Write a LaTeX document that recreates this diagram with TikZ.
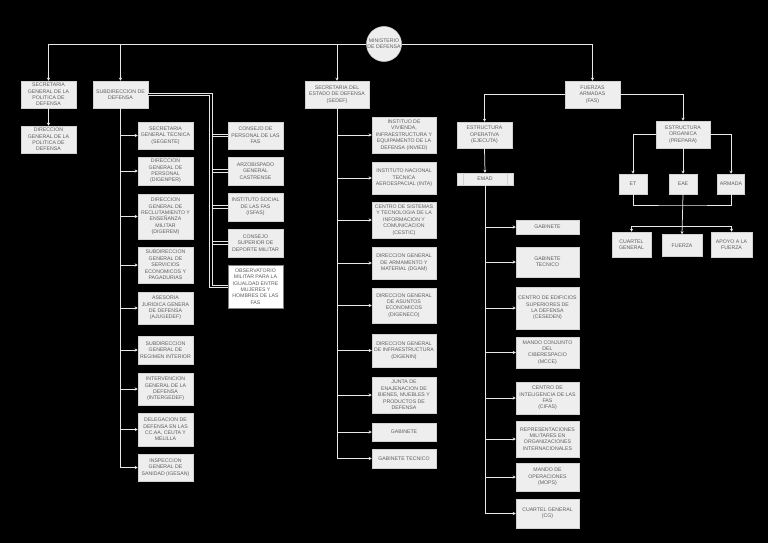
\documentclass[tikz,border=0pt]{standalone}
\usepackage{fontspec}
\setmainfont{Liberation Sans}
\usetikzlibrary{arrows.meta}

\definecolor{boxfill}{HTML}{EEEEEE}
\definecolor{boxline}{HTML}{D2D2D2}
\definecolor{txtgray}{HTML}{5E5E5E}
\definecolor{linegray}{HTML}{E8E8E8}

\tikzset{
  box/.style={draw=boxline, fill=boxfill, text=txtgray, align=center, inner sep=1pt,
    line width=0.5pt, font=\fontsize{5.2}{6.4}\selectfont},
  circ/.style={box, circle, minimum size=35pt, inner sep=0pt},
  wA/.style={minimum width=55pt},
  wB/.style={minimum width=64pt},
  wC/.style={minimum width=63pt},
  conn/.style={draw=linegray, line width=0.75pt},
  arr/.style={conn, -{Stealth[length=3pt,width=3pt]}},
  link/.style={draw=linegray, line width=1pt, double=black, double distance=1.1pt}
}

\begin{document}
\begin{tikzpicture}[x=1pt,y=-1pt]
  \fill[black] (0,0) rectangle (768,543);

  % ministerio
  \node[circ] (min) at (384,44) {MINISTERIO\\DE DEFENSA};

  % politica de defensa
  \node[box, wA, minimum height=27pt] (sgpd) at (48.5,94.5) {SECRETARIA\\GENERAL DE LA\\POLITICA DE\\DEFENSA};
  \node[box, wA, minimum height=27pt] (dgpd) at (48.5,139.5) {DIRECCION\\GENERAL DE LA\\POLITICA DE\\DEFENSA};

  % subdireccion de defensa
  \node[box, wA, minimum height=27pt] (subdef) at (120.5,94.5) {SUBDIRECCION DE\\DEFENSA};
  \node[box, wA, minimum height=27pt] (segente) at (165.5,135.5) {SECRETARIA\\GENERAL TECNICA\\(SEGENTE)};
  \node[box, wA, minimum height=28pt] (digenper) at (165.5,171) {DIRECCION\\GENERAL DE\\PERSONAL\\(DIGENPER)};
  \node[box, wA, minimum height=45pt] (digerem) at (165.5,216.5) {DIRECCION\\GENERAL DE\\RECLUTAMIENTO Y\\ENSEÑANZA\\MILITAR\\(DIGEREM)};
  \node[box, wA, minimum height=36pt] (sgsep) at (165.5,265) {SUBDIRECCION\\GENERAL DE\\SERVICIOS\\ECONOMICOS Y\\PAGADURIAS};
  \node[box, wA, minimum height=32pt] (ajugedef) at (165.5,308) {ASESORIA\\JURIDICA GENERA\\DE DEFENSA\\(AJUGEDEF)};
  \node[box, wA, minimum height=28pt] (sgri) at (165.5,350) {SUBDIRECCION\\GENERAL DE\\REGIMEN INTERIOR};
  \node[box, wA, minimum height=32pt] (intergedef) at (165.5,389) {INTERVENCION\\GENERAL DE LA\\DEFENSA\\(INTERGEDEF)};
  \node[box, wA, minimum height=33pt] (deleg) at (165.5,429.5) {DELEGACION DE\\DEFENSA EN LAS\\CC.AA, CEUTA Y\\MELILLA};
  \node[box, wA, minimum height=27pt] (igesan) at (165.5,467.5) {INSPECCION\\GENERAL DE\\SANIDAD (IGESAN)};

  \node[box, wA, minimum height=27pt] (cpfas) at (255.5,135.5) {CONSEJO DE\\PERSONAL DE LAS\\FAS};
  \node[box, wA, minimum height=28pt] (arzob) at (255.5,171) {ARZOBISPADO\\GENERAL\\CASTRENSE};
  \node[box, wA, minimum height=28pt] (isfas) at (255.5,207) {INSTITUTO SOCIAL\\DE LAS FAS\\(ISFAS)};
  \node[box, wA, minimum height=28pt] (csdm) at (255.5,243) {CONSEJO\\SUPERIOR DE\\DEPORTE MILITAR};
  \node[box, wA, minimum height=43pt, fill=white, draw=gray] (observ) at (255.5,286.5) {OBSERVATORIO\\MILITAR PARA LA\\IGUALDAD ENTRE\\MUJERES Y\\HOMBRES DE LAS\\FAS};

  % secretaria de estado
  \node[box, wB, minimum height=27pt] (sedef) at (337,94.5) {SECRETARIA DEL\\ESTADO DE DEFENSA\\(SEDEF)};
  \node[box, wB, minimum height=36pt] (invied) at (404,135) {INSTITUO DE\\VIVIENDA,\\INFRAESTRUCTURA Y\\EQUIPAMENTO DE LA\\DEFENSA (INVIED)};
  \node[box, wB, minimum height=32pt] (inta) at (404,178) {INSTITUTO NACIONAL\\TECNICA\\AEROESPACIAL (INTA)};
  \node[box, wB, minimum height=36pt] (cestic) at (404,220) {CENTRO DE SISTEMAS\\Y TECNOLOGIA DE LA\\INFORMACION Y\\COMUNICACION\\(CESTIC)};
  \node[box, wB, minimum height=32pt] (dgam) at (404,263) {DIRECCION GENERAL\\DE ARMAMENTO Y\\MATERIAL (DGAM)};
  \node[box, wB, minimum height=35pt] (digeneco) at (404,305.5) {DIRECCION GENERAL\\DE ASUNTOS\\ECONOMICOS\\(DIGENECO)};
  \node[box, wB, minimum height=33pt] (digenin) at (404,350.5) {DIRECCION GENERAL\\DE INFRAESTRUCTURA\\(DIGENIN)};
  \node[box, wB, minimum height=36pt] (junta) at (404,395) {JUNTA DE\\ENAJENACION DE\\BIENES, MUEBLES Y\\PRODUCTOS DE\\DEFENSA};
  \node[box, wB, minimum height=18pt] (gab) at (404,432) {GABINETE};
  \node[box, wB, minimum height=19pt] (gabtec) at (404,458.5) {GABINETE TECNICO};

  % fuerzas armadas
  \node[box, wA, minimum height=27pt] (fas) at (592.5,94.5) {FUERZAS\\ARMADAS\\(FAS)};
  \node[box, wA, minimum height=26pt] (ejecuta) at (484.5,135) {ESTRUCTURA\\OPERATIVA\\(EJECUTA)};
  \node[box, minimum width=56pt, minimum height=12pt] (emad) at (485,179) {EMAD};
  \draw[boxline, line width=0.5pt] ([xshift=6pt]emad.north west) -- ([xshift=6pt]emad.south west)
    ([xshift=-6pt]emad.north east) -- ([xshift=-6pt]emad.south east);
  \node[box, wC, minimum height=14pt] (gab2) at (547.5,227) {GABINETE};
  \node[box, wC, minimum height=30pt] (gabtec2) at (547.5,262) {GABINETE\\TECNICO};
  \node[box, wC, minimum height=42pt] (ceseden) at (547.5,308) {CENTRO DE EDIFICIOS\\SUPERIORES DE\\LA DEFENSA\\(CESEDEN)};
  \node[box, wC, minimum height=31pt] (mcce) at (547.5,352.5) {MANDO CONJUNTO\\DEL\\CIBERESPACIO\\(MCCE)};
  \node[box, wC, minimum height=32pt] (cifas) at (547.5,398) {CENTRO DE\\INTELIGENCIA DE LAS\\FAS\\(CIFAS)};
  \node[box, wC, minimum height=36pt] (repres) at (547.5,439) {REPRESENTACIONES\\MILITARES EN\\ORGANIZACIONES\\INTERNACIONALES};
  \node[box, wC, minimum height=28pt] (mops) at (547.5,477) {MANDO DE\\OPERACIONES\\(MOPS)};
  \node[box, wC, minimum height=29pt] (cg) at (547.5,513.5) {CUARTEL GENERAL\\(CG)};

  \node[box, minimum width=54pt, minimum height=27pt] (prepara) at (683,134.5) {ESTRUCTURA\\ORGANICA\\(PREPARA)};
  \node[box, minimum width=28pt, minimum height=20pt] (et) at (633,184) {ET};
  \node[box, minimum width=28pt, minimum height=20pt] (eae) at (683,184) {EAE};
  \node[box, minimum width=27pt, minimum height=20pt] (armada) at (731,184) {ARMADA};
  \node[box, minimum width=39pt, minimum height=25pt] (cuartel) at (631.5,244.5) {CUARTEL\\GENERAL};
  \node[box, minimum width=40pt, minimum height=22pt] (fuerza) at (682,245.5) {FUERZA};
  \node[box, minimum width=41pt, minimum height=25pt] (apoyo) at (731.5,244.5) {APOYO A LA\\FUERZA};

  % connectors from ministerio
  \draw[arr] (min.west) -| (sgpd.north);
  \draw[arr] (min.west) -| (subdef.north);
  \draw[arr] (min.west) -| (sedef.north);
  \draw[arr] (min.east) -| (fas.north);
  \draw[arr] (sgpd.south) -- (dgpd.north);

  % subdireccion
  \foreach \n in {segente,digenper,digerem,sgsep,ajugedef,sgri,intergedef,deleg,igesan}
    \draw[arr] (subdef.south) |- (\n.west);
  \coordinate (dbl) at (211,94.5);
  \foreach \n in {cpfas,arzob,isfas,csdm,observ}
    \draw[link] (subdef.east) -- (dbl) |- (\n.west);

  % sedef
  \foreach \n in {invied,inta,cestic,dgam,digeneco,digenin,junta,gab,gabtec}
    \draw[arr] (sedef.south) |- (\n.west);

  % fas
  \draw[arr] (fas.west) -| (ejecuta.north);
  \draw[arr] (fas.east) -| (prepara.north);
  \draw[arr] (ejecuta.south) -- (emad.north);
  \foreach \n in {gab2,gabtec2,ceseden,mcce,cifas,repres,mops,cg}
    \draw[arr] (emad.south) |- (\n.west);

  \draw[arr] (prepara.west) -| (et.north);
  \draw[arr] (prepara.south) -- (eae.north);
  \draw[arr] (prepara.east) -| (armada.north);
  \coordinate (join) at (683,205);
  \coordinate (split) at (683,226);
  \draw[conn] (et.south) |- (join) -| (armada.south);
  \draw[arr] (eae.south) -- (fuerza.north);
  \draw[arr] (split) -| (cuartel.north);
  \draw[arr] (split) -| (apoyo.north);
\end{tikzpicture}
\end{document}
